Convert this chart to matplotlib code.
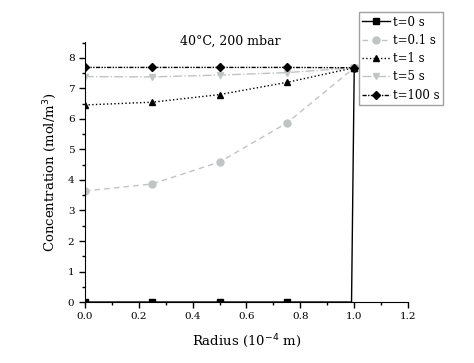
import matplotlib
matplotlib.use("Agg")
import matplotlib.pyplot as plt
from matplotlib.ticker import MultipleLocator

# radius positions (1e-4 m)
radius = [0.0, 0.25, 0.5, 0.75, 1.0]
# t=0 has a step at the surface
radius_t0 = [0.0, 0.25, 0.5, 0.75, 0.99, 1.0]
conc_t0 = [0.0, 0.0, 0.0, 0.0, 0.0, 7.68]
conc_t01 = [3.64, 3.87, 4.59, 5.87, 7.68]
conc_t1 = [6.46, 6.55, 6.80, 7.20, 7.68]
conc_t5 = [7.39, 7.38, 7.44, 7.52, 7.68]
conc_t100 = [7.69, 7.69, 7.69, 7.69, 7.68]
labels = ["t=0 s", "t=0.1 s", "t=1 s", "t=5 s", "t=100 s"]

plt.rcParams['font.family'] = ['DejaVu Serif']

fig = plt.figure(figsize=(4.74, 3.63), dpi=100)
ax = fig.add_axes([0.179, 0.168, 0.682, 0.716])

gray = "#c0c4c4"
ax.plot(radius_t0, conc_t0, color="black", lw=1.0, ls="-", marker="s", ms=4,
        markevery=[0, 1, 2, 3, 5], label=labels[0])
ax.plot(radius, conc_t01, color=gray, lw=1.0, ls=(0, (4, 3)), marker="o", ms=5,
        label=labels[1])
ax.plot(radius, conc_t1, color="black", lw=1.0, ls=":", marker="^", ms=5,
        label=labels[2])
ax.plot(radius, conc_t5, color=gray, lw=1.0, ls="-.", marker="v", ms=5,
        label=labels[3])
ax.plot(radius, conc_t100, color="black", lw=1.0, ls=(0, (3, 1, 1, 1, 1, 1)),
        marker="D", ms=4.5, label=labels[4])

ax.set_xlim(0, 1.2)
ax.set_ylim(0, 8.52)
ax.xaxis.set_major_locator(MultipleLocator(0.2))
ax.xaxis.set_minor_locator(MultipleLocator(0.1))
ax.yaxis.set_major_locator(MultipleLocator(1))
ax.yaxis.set_minor_locator(MultipleLocator(0.5))
ax.xaxis.set_major_formatter(matplotlib.ticker.FormatStrFormatter("%.1f"))
ax.tick_params(which="major", direction="out", length=4, width=1, labelsize=7.5)
ax.tick_params(which="minor", direction="out", length=2.5, width=1)
for s in ["top", "right"]:
    ax.spines[s].set_visible(False)

ax.set_xlabel("Radius (10$^{-4}$ m)", fontsize=9.5, labelpad=8)
ax.set_ylabel("Concentration (mol/m$^3$)", fontsize=9.5, labelpad=6)
ax.text(0.54, 8.56, "40°C, 200 mbar", fontsize=9, ha="center", va="center")

leg = fig.legend(loc="upper left", bbox_to_anchor=(0.757, 0.967), fontsize=8.5,
                 frameon=True, fancybox=False, edgecolor="#888888",
                 handlelength=2.3, handletextpad=0.3, labelspacing=0.45,
                 borderpad=0.3, borderaxespad=0)
leg.get_frame().set_linewidth(1.0)

fig.savefig("out.png", dpi=100)
